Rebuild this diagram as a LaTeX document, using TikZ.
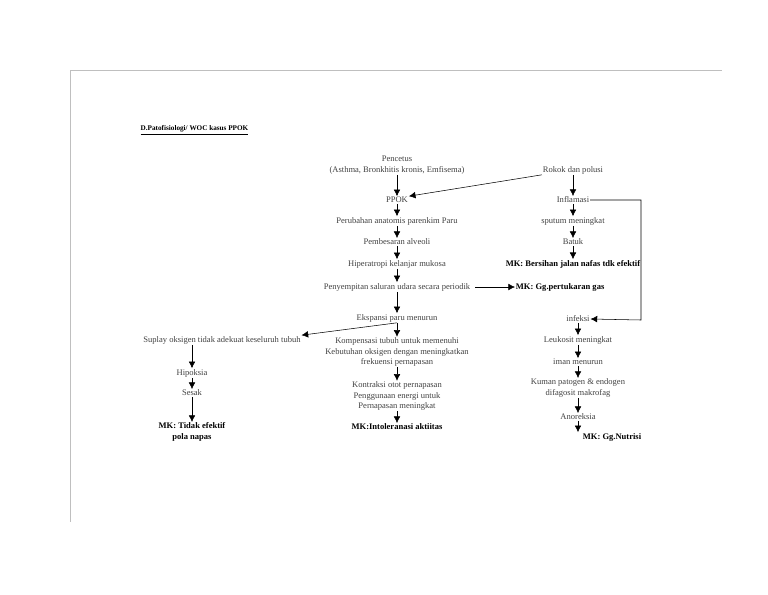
\documentclass[tikz,border=0pt]{standalone}
\usepackage{fontspec}
\setmainfont{Liberation Serif}
\usetikzlibrary{arrows.meta}
\begin{document}
\begin{tikzpicture}[x=0.75pt,y=-0.75pt,>={Latex[length=5pt,width=5pt]},
  box/.style={inner sep=0.5pt,align=center,font=\fontsize{6.4}{7.8}\selectfont,text=black!75},
  mk/.style={box,font=\fontsize{6.4}{7.8}\selectfont\bfseries,text=black},
  flow/.style={->,thin}]
\useasboundingbox (0,0) rectangle (768,594);
% page edges
\draw[black!25,very thin] (70,70) -- (722,70);
\draw[black!25,very thin] (70,70) -- (70,522);
\node[anchor=west,font=\fontsize{5.4}{6.5}\selectfont\bfseries] (title) at (136,130) {\underline{D.Patofisiologi/ WOC kasus PPOK}};

% central chain
\node[box] (pencetus) at (397,165) {Pencetus\\(Asthma, Bronkhitis kronis, Emfisema)};
\node[box] (ppok) at (397,200) {PPOK};
\node[box] (perubahan) at (397,221) {Perubahan anatomis parenkim Paru};
\node[box] (pembesaran) at (397,242) {Pembesaran alveoli};
\node[box] (hiper) at (397,264) {Hiperatropi kelanjar mukosa};
\node[box] (sempit) at (397,287) {Penyempitan saluran udara secara periodik};
\node[box] (ekspansi) at (397,318) {Ekspansi paru menurun};
\node[box] (kompen) at (397,352) {Kompensasi tubuh untuk memenuhi\\Kebutuhan oksigen dengan meningkatkan\\frekuensi pernapasan};
\node[box] (kontraksi) at (397,396) {Kontraksi otot pernapasan\\Penggunaan energi untuk\\Pernapasan  meningkat};
\node[mk] (mkakt) at (397,427) {MK:Intoleranasi aktiitas};

% left branch
\node[box] (suplay) at (222,340) {Suplay oksigen tidak adekuat keseluruh tubuh};
\node[box] (hipoksia) at (192,373) {Hipoksia};
\node[box] (sesak) at (192,393) {Sesak};
\node[mk] (mkpola) at (192,432) {MK: Tidak efektif\\pola napas};

% right branch
\node[box] (rokok) at (573,170) {Rokok dan polusi};
\node[box] (inflamasi) at (573,200) {Inflamasi};
\node[box] (sputum) at (573,221) {sputum meningkat};
\node[box] (batuk) at (573,242) {Batuk};
\node[mk] (mkjalan) at (573,264) {MK: Bersihan jalan nafas tdk efektif};
\node[mk,anchor=west] (mkgas) at (515,287) {MK: Gg.pertukaran gas};
\node[box] (infeksi) at (578,319) {infeksi};
\node[box] (leukosit) at (578,340) {Leukosit meningkat};
\node[box] (iman) at (578,362) {iman menurun};
\node[box] (kuman) at (578,388) {Kuman patogen \& endogen\\difagosit makrofag};
\node[box] (anoreksia) at (578,417) {Anoreksia};
\node[mk] (mknutrisi) at (612,437) {MK: Gg.Nutrisi};

\coordinate (turn1) at (641,200);
\coordinate (turn2) at (641,320);

\draw[flow] (pencetus) -- (ppok);
\draw[flow] (rokok.south west) -- (ppok.north east);
\draw[flow] (ppok) -- (perubahan);
\draw[flow] (perubahan) -- (pembesaran);
\draw[flow] (pembesaran) -- (hiper);
\draw[flow] (hiper) -- (sempit);
\draw[flow] (sempit) -- (ekspansi);
\draw[flow] (sempit.east) ++(4,0) -- (mkgas.west);
\draw[flow] (ekspansi.south) -- (suplay.north east);
\draw[flow] (ekspansi) -- (kompen);
\draw[flow] (kompen) -- (kontraksi);
\draw[flow] (kontraksi) -- (mkakt);
\draw[flow] (suplay.south -| hipoksia) -- (hipoksia);
\draw[flow] (hipoksia) -- (sesak);
\draw[flow] (sesak) -- (mkpola);
\draw[flow] (rokok) -- (inflamasi);
\draw[flow] (inflamasi) -- (sputum);
\draw[flow] (sputum) -- (batuk);
\draw[flow] (batuk) -- (mkjalan);
\draw[flow] (inflamasi.east) -- (turn1) -- (turn2) -- (infeksi.east);
\draw[flow] (infeksi) -- (leukosit);
\draw[flow] (leukosit) -- (iman);
\draw[flow] (iman) -- (kuman);
\draw[flow] (kuman) -- (anoreksia);
\draw[flow] (anoreksia) -- (anoreksia |- mknutrisi.north);
\end{tikzpicture}
\end{document}
